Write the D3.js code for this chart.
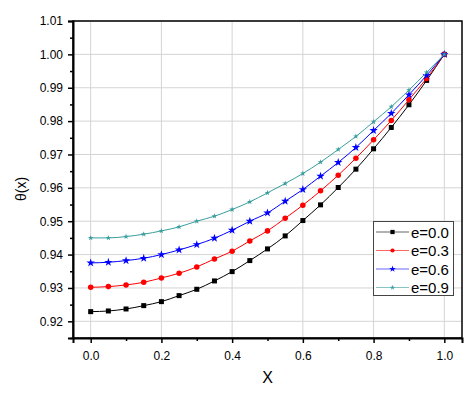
<!DOCTYPE html>
<html>
<head>
<meta charset="utf-8">
<script src="https://cdn.jsdelivr.net/npm/d3@7"></script>
<style>
  body { margin: 0; background: #fff; }
  svg { display: block; font-family: "Liberation Sans", Arial, sans-serif; }
</style>
</head>
<body>
<svg id="canvas" width="474" height="399"></svg>
<script>
// x positions and theta(x) for each e
let xValues = [0, 0.05, 0.1, 0.15, 0.2, 0.25, 0.3, 0.35, 0.4, 0.45, 0.5, 0.55, 0.6, 0.65, 0.7, 0.75, 0.8, 0.85, 0.9, 0.95, 1.0]
let e00 = [0.9229, 0.9231, 0.9237, 0.9247, 0.9259, 0.9277, 0.9296, 0.9321, 0.9349, 0.9382, 0.9417, 0.9456, 0.9502, 0.9549, 0.9601, 0.9656, 0.9717, 0.9781, 0.9849, 0.9922, 1.0000]
let e03 = [0.9302, 0.9304, 0.9309, 0.9317, 0.9330, 0.9344, 0.9363, 0.9387, 0.9410, 0.9441, 0.9471, 0.9509, 0.9548, 0.9591, 0.9638, 0.9689, 0.9744, 0.9802, 0.9864, 0.9928, 1.0000]
let e06 = [0.9375, 0.9377, 0.9382, 0.9389, 0.9400, 0.9414, 0.9430, 0.9449, 0.9473, 0.9500, 0.9525, 0.9560, 0.9595, 0.9635, 0.9676, 0.9721, 0.9772, 0.9823, 0.9879, 0.9937, 1.0000]
let e09 = [0.9450, 0.9450, 0.9454, 0.9461, 0.9471, 0.9483, 0.9500, 0.9515, 0.9535, 0.9558, 0.9585, 0.9613, 0.9643, 0.9677, 0.9715, 0.9754, 0.9798, 0.9843, 0.9893, 0.9946, 1.0000]

let seriesNames = ['e=0.0', 'e=0.3', 'e=0.6', 'e=0.9']
let seriesValues = [e00, e03, e06, e09]
let seriesColors = ['#000000', '#ff0000', '#0000ff', '#3a9e9e']
let seriesSymbols = ['square', 'circle', 'star', 'star']
let symbolSizes = [25, 24, 22, 10]

let xTicks = [0, 0.2, 0.4, 0.6, 0.8, 1.0]
let xMinorTicks = [0.1, 0.3, 0.5, 0.7, 0.9]
let yTicks = [0.92, 0.93, 0.94, 0.95, 0.96, 0.97, 0.98, 0.99, 1.00, 1.01]
let yMinorTicks = [0.915, 0.925, 0.935, 0.945, 0.955, 0.965, 0.975, 0.985, 0.995, 1.005]

let canvas = d3.select('#canvas')

let plotLeft = 73, plotRight = 462, plotTop = 21, plotBottom = 338

let xScale = d3.scaleLinear().domain([-0.05, 1.05]).range([plotLeft, plotRight])
let yScale = d3.scaleLinear().domain([0.915, 1.01]).range([plotBottom, plotTop])

// grid
canvas.append('g')
    .selectAll('line')
    .data(xTicks)
    .enter()
    .append('line')
    .attr('x1', (d) => xScale(d)).attr('x2', (d) => xScale(d))
    .attr('y1', plotTop).attr('y2', plotBottom)
    .attr('stroke', '#d4d4d4').attr('stroke-width', 1)

canvas.append('g')
    .selectAll('line')
    .data(yTicks)
    .enter()
    .append('line')
    .attr('x1', plotLeft).attr('x2', plotRight)
    .attr('y1', (d) => yScale(d)).attr('y2', (d) => yScale(d))
    .attr('stroke', '#d4d4d4').attr('stroke-width', 1)

// series
let line = d3.line()
    .x((d) => xScale(d[0]))
    .y((d) => yScale(d[1]))
    .curve(d3.curveMonotoneX)

let symbolFor = (name) => {
    if (name === 'square') return d3.symbolSquare
    if (name === 'circle') return d3.symbolCircle
    return d3.symbolStar
}

seriesValues.forEach((values, i) => {
    let points = xValues.map((x, j) => [x, values[j]])
    canvas.append('path')
        .datum(points)
        .attr('d', line)
        .attr('fill', 'none')
        .attr('stroke', seriesColors[i])
        .attr('stroke-width', 1)

    canvas.append('g')
        .selectAll('path')
        .data(points)
        .enter()
        .append('path')
        .attr('transform', (d) => 'translate(' + xScale(d[0]) + ',' + yScale(d[1]) + ')')
        .attr('d', d3.symbol().type(symbolFor(seriesSymbols[i])).size(symbolSizes[i]))
        .attr('fill', seriesColors[i])
})

// frame
canvas.append('rect')
    .attr('x', plotLeft).attr('y', plotTop)
    .attr('width', plotRight - plotLeft).attr('height', plotBottom - plotTop)
    .attr('fill', 'none').attr('stroke', '#000').attr('stroke-width', 1.5)

// axes
let xAxis = d3.axisBottom(xScale).tickValues(xTicks).tickFormat(d3.format('.1f')).tickSize(5).tickPadding(8)
let xAxisG = canvas.append('g').attr('transform', 'translate(0,' + plotBottom + ')').call(xAxis)
xAxisG.select('.domain').attr('stroke-width', 2)
xAxisG.selectAll('.tick line').attr('stroke-width', 1.5)
xAxisG.selectAll('text').attr('font-size', 12).attr('fill', '#000')
    .attr('font-family', '"Liberation Sans", Arial, sans-serif')

let xMinor = d3.axisBottom(xScale).tickValues(xMinorTicks).tickFormat('').tickSize(3)
let xMinorG = canvas.append('g').attr('transform', 'translate(0,' + plotBottom + ')').call(xMinor)
xMinorG.select('.domain').remove()
xMinorG.selectAll('.tick line').attr('stroke-width', 1.5)

let yAxis = d3.axisLeft(yScale).tickValues(yTicks).tickFormat(d3.format('.2f')).tickSize(5).tickPadding(5)
let yAxisG = canvas.append('g').attr('transform', 'translate(' + plotLeft + ',0)').call(yAxis)
yAxisG.select('.domain').attr('stroke-width', 2)
yAxisG.selectAll('.tick line').attr('stroke-width', 1.5)
yAxisG.selectAll('text').attr('font-size', 12).attr('fill', '#000')
    .attr('font-family', '"Liberation Sans", Arial, sans-serif')

let yMinor = d3.axisLeft(yScale).tickValues(yMinorTicks).tickFormat('').tickSize(3)
let yMinorG = canvas.append('g').attr('transform', 'translate(' + plotLeft + ',0)').call(yMinor)
yMinorG.select('.domain').remove()
yMinorG.selectAll('.tick line').attr('stroke-width', 1.5)

// titles
canvas.append('text')
    .text('X')
    .attr('x', xScale(0.5)).attr('y', 383)
    .attr('text-anchor', 'middle')
    .attr('font-size', 16)

canvas.append('text')
    .text('θ(x)')
    .attr('transform', 'translate(26,189) rotate(-90)')
    .attr('text-anchor', 'middle')
    .attr('font-size', 14)

// legend
let legend = canvas.append('g')
legend.append('rect')
    .attr('x', 373.5).attr('y', 221.5)
    .attr('width', 80).attr('height', 74)
    .attr('fill', '#fff').attr('stroke', '#444').attr('stroke-width', 1)

seriesNames.forEach((name, i) => {
    let y = 232 + i * 18.5
    legend.append('line')
        .attr('x1', 376).attr('x2', 409)
        .attr('y1', y).attr('y2', y)
        .attr('stroke', seriesColors[i]).attr('stroke-width', 1)
        .attr('opacity', 0.6)
    legend.append('path')
        .attr('transform', 'translate(392.5,' + y + ')')
        .attr('d', d3.symbol().type(symbolFor(seriesSymbols[i])).size(i === 0 ? 18 : (i === 3 ? 8 : 14)))
        .attr('fill', seriesColors[i])
    legend.append('text')
        .text(name)
        .attr('x', 411).attr('y', y + 5.5)
        .attr('font-size', 15)
})
</script>
</body>
</html>
